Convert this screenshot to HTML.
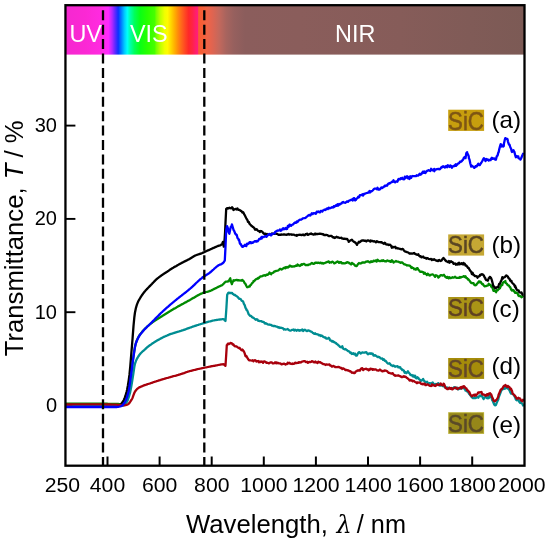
<!DOCTYPE html>
<html lang="en">
<head>
<meta charset="utf-8">
<title>Transmittance spectra of SiC samples</title>
<style>
html,body{margin:0;padding:0;background:#fff;}
body{width:550px;height:542px;overflow:hidden;font-family:"Liberation Sans",Arial,sans-serif;}
svg text{white-space:pre;}
</style>
</head>
<body>
<svg width="550" height="542" viewBox="0 0 550 542" style="display:block">
<defs>
<linearGradient id="spec" gradientUnits="userSpaceOnUse" x1="65" y1="0" x2="525" y2="0">
<stop offset="0.0000" stop-color="#f528d0"/>
<stop offset="0.0435" stop-color="#fb28d4"/>
<stop offset="0.0761" stop-color="#ff2ae0"/>
<stop offset="0.0870" stop-color="#ff2cf0"/>
<stop offset="0.0943" stop-color="#ff28ff"/>
<stop offset="0.1022" stop-color="#b428ff"/>
<stop offset="0.1085" stop-color="#6428ff"/>
<stop offset="0.1157" stop-color="#0a32ff"/>
<stop offset="0.1228" stop-color="#0082ff"/>
<stop offset="0.1291" stop-color="#00c8ff"/>
<stop offset="0.1354" stop-color="#00fffa"/>
<stop offset="0.1417" stop-color="#00ffaa"/>
<stop offset="0.1511" stop-color="#00ff5a"/>
<stop offset="0.1639" stop-color="#0aff14"/>
<stop offset="0.1789" stop-color="#28ff00"/>
<stop offset="0.1946" stop-color="#46ff00"/>
<stop offset="0.1987" stop-color="#78ff00"/>
<stop offset="0.2074" stop-color="#beff00"/>
<stop offset="0.2167" stop-color="#f0ff00"/>
<stop offset="0.2230" stop-color="#fffa00"/>
<stop offset="0.2293" stop-color="#ffdc00"/>
<stop offset="0.2374" stop-color="#ffb400"/>
<stop offset="0.2452" stop-color="#ff8c0a"/>
<stop offset="0.2515" stop-color="#ff6e19"/>
<stop offset="0.2611" stop-color="#ff4623"/>
<stop offset="0.2689" stop-color="#ff2828"/>
<stop offset="0.2770" stop-color="#ff2346"/>
<stop offset="0.2848" stop-color="#ff1e6e"/>
<stop offset="0.2893" stop-color="#ff1e7d"/>
<stop offset="0.2904" stop-color="#fa5a32"/>
<stop offset="0.2989" stop-color="#f55f37"/>
<stop offset="0.3085" stop-color="#f06446"/>
<stop offset="0.3196" stop-color="#e16450"/>
<stop offset="0.3348" stop-color="#c4685c"/>
<stop offset="0.3500" stop-color="#a8645e"/>
<stop offset="0.3674" stop-color="#96605e"/>
<stop offset="0.3913" stop-color="#8b5d5c"/>
<stop offset="0.5109" stop-color="#8a5d5b"/>
<stop offset="0.7283" stop-color="#865c59"/>
<stop offset="0.8804" stop-color="#805b57"/>
<stop offset="1.0000" stop-color="#7c5a55"/>
</linearGradient>
<clipPath id="plotclip"><rect x="65" y="5" width="460" height="461"/></clipPath>
</defs>
<rect x="0" y="0" width="550" height="542" fill="#ffffff"/>
<rect x="65" y="5" width="459.5" height="49.6" fill="url(#spec)"/>
<line x1="107.5" y1="456.5" x2="107.5" y2="465" stroke="#000" stroke-width="2"/>
<line x1="159.6" y1="456.5" x2="159.6" y2="465" stroke="#000" stroke-width="2"/>
<line x1="211.7" y1="456.5" x2="211.7" y2="465" stroke="#000" stroke-width="2"/>
<line x1="263.8" y1="456.5" x2="263.8" y2="465" stroke="#000" stroke-width="2"/>
<line x1="315.9" y1="456.5" x2="315.9" y2="465" stroke="#000" stroke-width="2"/>
<line x1="368.0" y1="456.5" x2="368.0" y2="465" stroke="#000" stroke-width="2"/>
<line x1="420.1" y1="456.5" x2="420.1" y2="465" stroke="#000" stroke-width="2"/>
<line x1="472.2" y1="456.5" x2="472.2" y2="465" stroke="#000" stroke-width="2"/>
<line x1="65.5" y1="405.5" x2="75.4" y2="405.5" stroke="#000" stroke-width="1.9"/>
<line x1="65.5" y1="312.2" x2="75.4" y2="312.2" stroke="#000" stroke-width="1.9"/>
<line x1="65.5" y1="218.9" x2="75.4" y2="218.9" stroke="#000" stroke-width="1.9"/>
<line x1="65.5" y1="125.6" x2="75.4" y2="125.6" stroke="#000" stroke-width="1.9"/>
<g clip-path="url(#plotclip)">
<path d="M65.5 403.7 L66.3 403.7 L67.1 403.7 L67.9 403.7 L68.7 403.7 L69.5 403.7 L70.3 403.7 L71.1 403.7 L71.9 403.7 L72.7 403.7 L73.5 403.7 L74.3 403.7 L75.1 403.7 L75.9 403.7 L76.7 403.7 L77.5 403.7 L78.3 403.7 L79.1 403.7 L79.9 403.7 L80.7 403.7 L81.5 403.7 L82.3 403.7 L83.1 403.7 L83.9 403.7 L84.7 403.7 L85.5 403.7 L86.3 403.7 L87.1 403.7 L87.9 403.7 L88.7 403.7 L89.5 403.7 L90.3 403.7 L91.1 403.7 L91.9 403.7 L92.7 403.7 L93.5 403.7 L94.3 403.7 L95.1 403.7 L95.9 403.7 L96.7 403.7 L97.5 403.7 L98.3 403.7 L99.1 403.7 L99.9 403.7 L100.0 403.7 L100.7 403.7 L101.5 403.7 L102.3 403.7 L103.1 403.7 L103.9 403.7 L104.7 403.7 L105.5 403.7 L106.3 403.7 L107.1 403.7 L107.9 403.8 L108.7 403.8 L109.5 403.8 L110.3 403.8 L111.1 403.8 L111.9 403.8 L112.7 403.8 L113.5 403.8 L114.3 403.9 L115.1 403.9 L115.9 403.9 L116.0 403.9 L116.7 403.9 L117.5 404.0 L118.3 404.0 L119.1 404.1 L119.9 404.2 L120.7 404.2 L121.0 404.2 L121.5 404.1 L122.3 403.8 L123.1 403.2 L123.9 402.5 L124.7 401.6 L125.2 401.0 L125.5 400.6 L126.3 398.9 L127.1 396.7 L127.9 393.9 L128.5 391.5 L128.7 390.6 L129.5 385.9 L130.3 380.1 L131.0 375.0 L131.1 374.3 L131.9 368.2 L132.7 362.0 L133.2 358.4 L133.5 356.4 L134.3 350.9 L135.1 346.2 L135.5 344.5 L135.9 343.1 L136.7 340.8 L137.5 338.9 L138.2 337.5 L138.3 337.3 L139.1 335.9 L139.9 334.7 L140.7 333.6 L141.5 332.6 L142.3 331.6 L143.1 330.7 L143.2 330.6 L143.9 329.8 L144.7 329.0 L145.5 328.2 L146.3 327.5 L147.1 326.7 L147.9 326.0 L148.7 325.3 L149.5 324.7 L150.3 324.0 L151.1 323.4 L151.5 323.1 L151.9 322.8 L152.7 322.2 L153.5 321.6 L154.3 321.0 L155.1 320.5 L155.9 320.0 L156.7 319.4 L157.5 318.9 L158.3 318.4 L159.1 317.9 L159.9 317.4 L160.7 316.9 L161.5 316.4 L162.3 315.9 L162.6 315.7 L163.1 315.4 L163.9 314.9 L164.7 314.4 L165.5 313.9 L166.3 313.4 L167.1 312.9 L167.9 312.4 L168.7 311.9 L169.5 311.4 L170.3 311.0 L171.1 310.5 L171.9 310.0 L172.7 309.6 L173.5 309.1 L174.3 308.6 L175.1 308.2 L175.9 307.7 L176.4 307.4 L176.7 307.2 L177.5 306.8 L178.3 306.3 L179.1 305.9 L179.9 305.4 L180.7 305.0 L181.5 304.5 L182.3 304.1 L183.1 303.7 L183.9 303.2 L184.7 302.8 L185.5 302.4 L186.3 301.9 L187.1 301.5 L187.9 301.0 L188.7 300.6 L189.5 300.2 L190.0 299.9 L190.3 299.7 L191.1 299.3 L191.9 298.8 L192.7 298.3 L193.5 297.9 L194.3 297.4 L195.1 296.9 L195.9 296.4 L196.7 296.0 L197.5 295.5 L198.3 295.1 L199.1 294.7 L199.9 294.3 L200.7 293.9 L201.5 293.5 L202.1 293.3 L202.3 293.2 L203.1 292.9 L203.9 292.7 L204.7 292.5 L205.5 292.2 L206.3 292.0 L207.1 291.8 L207.9 291.6 L208.7 291.3 L209.5 291.1 L210.0 290.9 L210.3 290.8 L211.1 290.5 L211.9 290.1 L212.7 289.7 L213.5 289.3 L214.3 288.9 L215.1 288.5 L215.9 288.1 L216.7 287.7 L217.4 287.3 L217.5 287.3 L218.3 286.9 L219.1 286.5 L219.9 286.2 L220.7 285.8 L221.5 285.4 L222.3 284.9 L222.9 284.5 L223.1 284.3 L223.9 283.5 L224.7 282.5 L225.5 281.8 L225.7 281.7 L226.3 281.6 L227.1 281.7 L227.9 281.3 L228.5 281.4 L228.7 280.7 L229.5 279.6 L230.3 278.2 L230.3 278.9 L231.1 282.1 L231.8 283.8 L231.9 284.2 L232.7 281.7 L233.1 281.7 L233.5 280.3 L234.3 280.6 L235.1 280.2 L235.9 280.1 L236.7 279.8 L237.5 280.3 L237.7 280.3 L238.3 280.2 L239.1 280.5 L239.9 280.3 L240.7 280.5 L241.5 280.6 L242.3 279.9 L242.3 279.9 L243.1 280.7 L243.9 281.6 L244.7 283.4 L245.1 283.3 L245.5 284.0 L246.3 285.8 L247.1 287.2 L247.8 287.1 L247.9 287.2 L248.7 286.6 L249.5 286.2 L249.7 286.6 L250.3 285.2 L251.1 284.7 L251.9 283.3 L252.7 282.6 L253.4 282.0 L253.5 281.2 L254.3 280.9 L255.1 280.1 L255.9 279.1 L256.7 279.1 L257.5 278.5 L258.0 277.9 L258.3 278.5 L259.1 277.8 L259.9 276.8 L260.7 276.4 L261.5 276.3 L262.3 276.2 L263.1 275.5 L263.5 275.5 L263.9 275.7 L264.7 275.1 L265.5 275.7 L266.3 274.9 L267.1 274.5 L267.9 274.8 L268.7 274.0 L269.5 272.5 L270.0 273.1 L270.3 273.8 L271.1 274.2 L271.9 273.1 L272.7 272.9 L273.5 272.5 L274.3 271.5 L275.1 271.4 L275.9 270.9 L276.7 270.8 L277.5 270.7 L278.3 270.5 L279.1 269.7 L279.9 268.9 L280.7 269.0 L281.5 269.5 L282.3 269.1 L283.1 268.6 L283.9 268.1 L284.7 267.6 L285.5 268.3 L285.8 267.3 L286.3 267.7 L287.1 266.9 L287.9 267.6 L288.7 267.1 L289.5 265.7 L290.3 265.6 L291.1 266.6 L291.9 266.4 L292.7 266.6 L293.5 266.3 L294.3 266.5 L295.1 266.2 L295.9 265.5 L296.7 265.8 L297.5 264.5 L298.3 265.5 L299.1 265.3 L299.9 266.0 L300.7 265.3 L301.5 264.3 L302.3 264.8 L303.1 264.0 L303.9 263.8 L304.3 263.8 L304.7 264.4 L305.5 265.0 L306.3 265.1 L307.1 264.9 L307.9 265.1 L308.7 264.7 L309.5 264.4 L310.3 264.3 L311.1 263.5 L311.9 263.0 L312.7 263.4 L313.5 263.9 L314.3 263.7 L315.1 262.7 L315.9 262.9 L316.7 262.6 L317.5 263.0 L318.3 262.7 L319.1 263.0 L319.9 263.0 L320.7 262.6 L321.5 263.4 L322.3 262.9 L322.7 263.5 L323.1 263.6 L323.9 263.2 L324.7 263.2 L325.5 262.6 L326.3 262.4 L327.1 261.9 L327.9 261.8 L328.7 261.4 L329.5 262.7 L330.3 262.3 L331.1 262.5 L331.9 261.9 L332.7 261.7 L333.5 262.5 L334.3 263.4 L335.1 263.0 L335.9 262.5 L336.7 261.9 L337.5 261.4 L338.3 262.0 L339.1 262.9 L339.9 262.0 L340.7 262.4 L341.2 262.2 L341.5 263.1 L342.3 263.4 L343.1 263.1 L343.9 263.3 L344.7 263.4 L345.5 262.9 L346.3 262.8 L347.1 262.1 L347.9 262.5 L348.7 262.6 L349.5 263.4 L350.3 263.7 L351.1 264.5 L351.9 262.9 L352.7 263.4 L353.0 263.7 L353.5 264.0 L354.3 264.6 L355.1 265.7 L355.9 265.6 L356.0 266.0 L356.7 266.0 L357.5 264.9 L358.3 263.7 L359.0 263.0 L359.1 263.3 L359.9 263.5 L360.7 263.4 L361.5 262.9 L361.5 263.2 L362.3 262.4 L363.1 262.6 L363.9 262.3 L364.7 262.7 L365.5 262.1 L366.3 261.5 L367.1 261.7 L367.9 261.2 L368.7 261.7 L369.5 262.3 L370.3 262.4 L371.1 261.3 L371.9 262.0 L372.7 261.7 L373.5 260.7 L374.3 260.8 L375.1 261.1 L375.9 260.4 L376.7 261.5 L377.5 259.8 L378.1 260.2 L378.3 260.5 L379.1 261.0 L379.9 261.1 L380.7 261.1 L381.5 260.5 L382.3 261.1 L383.1 260.1 L383.9 260.9 L384.7 261.3 L385.5 261.2 L386.3 261.4 L387.1 260.5 L387.9 260.6 L388.7 261.2 L389.5 261.1 L390.0 261.0 L390.3 261.9 L391.1 261.8 L391.9 260.2 L392.7 261.0 L393.5 262.6 L394.3 261.8 L395.1 261.7 L395.9 261.0 L396.7 261.5 L397.5 261.6 L398.3 261.6 L399.1 262.2 L399.9 262.5 L400.7 262.8 L401.0 262.3 L401.5 262.4 L402.3 262.4 L403.1 263.3 L403.9 264.1 L404.7 264.3 L405.5 264.7 L406.3 265.0 L407.1 265.5 L407.9 265.3 L408.7 265.5 L409.5 265.6 L410.3 266.0 L411.1 267.6 L411.9 268.0 L412.1 267.3 L412.7 267.8 L413.5 268.0 L414.3 269.3 L415.1 268.9 L415.9 269.7 L416.7 268.4 L417.5 268.1 L418.3 269.8 L419.1 270.2 L419.9 271.6 L420.7 271.8 L421.5 271.7 L422.3 271.9 L423.1 272.1 L423.9 273.7 L424.7 272.7 L425.5 273.9 L426.3 274.2 L426.9 275.1 L427.1 274.0 L427.9 273.7 L428.7 274.5 L429.5 275.5 L430.3 275.3 L431.1 274.7 L431.9 274.5 L432.7 274.3 L433.5 275.0 L434.3 275.8 L435.1 276.9 L435.9 275.3 L436.7 275.7 L437.5 275.8 L438.0 276.7 L438.3 277.6 L439.1 276.9 L439.9 276.0 L440.7 275.1 L441.5 275.1 L442.3 275.7 L443.1 275.4 L443.9 274.8 L444.3 275.5 L444.7 275.8 L445.5 277.1 L446.3 277.4 L447.1 277.9 L447.2 276.9 L447.9 277.1 L448.7 278.4 L449.5 277.2 L450.3 278.0 L451.1 278.0 L451.9 277.7 L452.7 277.1 L453.0 277.7 L453.5 277.6 L454.3 277.3 L455.1 276.7 L455.9 277.6 L456.7 277.8 L457.5 277.8 L458.3 277.9 L459.0 277.7 L459.1 277.9 L459.9 277.0 L460.7 277.6 L461.5 277.0 L462.3 276.8 L463.1 276.7 L463.5 276.3 L463.9 276.1 L464.7 277.0 L465.5 276.2 L466.3 277.9 L467.1 278.2 L467.9 279.5 L467.9 278.9 L468.7 279.6 L469.5 280.6 L470.3 281.8 L471.1 282.9 L471.9 283.2 L472.7 283.0 L473.5 283.2 L473.8 284.1 L474.3 284.8 L475.1 285.3 L475.9 285.2 L476.7 284.5 L476.8 283.7 L477.5 283.4 L478.3 282.3 L479.1 281.3 L479.9 282.4 L480.0 281.6 L480.7 281.8 L481.5 283.3 L482.3 284.2 L482.8 283.9 L483.1 284.5 L483.9 285.6 L484.7 286.3 L485.5 286.1 L485.5 286.1 L486.3 286.0 L487.1 285.7 L487.9 285.4 L488.3 285.2 L488.7 283.8 L489.5 284.6 L490.3 285.1 L491.1 285.6 L491.1 286.6 L491.9 287.0 L492.7 288.3 L493.5 290.8 L493.8 290.4 L494.3 290.2 L495.1 291.2 L495.9 291.9 L496.1 292.2 L496.7 290.1 L497.5 290.4 L498.3 289.5 L499.1 288.8 L499.4 288.4 L499.9 288.2 L500.7 286.3 L501.5 285.0 L502.3 285.0 L502.6 283.2 L503.1 282.6 L503.9 282.0 L504.7 281.7 L505.4 281.0 L505.5 282.8 L506.3 283.3 L507.1 284.1 L507.7 285.1 L507.9 285.1 L508.7 285.3 L509.5 286.6 L510.3 287.4 L511.1 289.7 L511.4 289.2 L511.9 290.6 L512.7 290.2 L513.5 290.1 L514.3 291.6 L515.1 292.3 L515.1 292.9 L515.9 292.5 L516.7 292.9 L517.5 293.3 L518.3 295.2 L518.7 295.9 L519.1 296.2 L519.9 295.7 L520.7 296.2 L521.5 297.2 L522.3 296.7 L523.1 296.4 L523.4 297.0" fill="none" stroke="#008a00" stroke-width="2.3" stroke-linejoin="round" stroke-linecap="butt"/>
<path d="M65.5 405.5 L66.3 405.5 L67.1 405.5 L67.9 405.5 L68.7 405.5 L69.5 405.5 L70.3 405.5 L71.1 405.5 L71.9 405.5 L72.7 405.5 L73.5 405.5 L74.3 405.5 L75.1 405.5 L75.9 405.5 L76.7 405.5 L77.5 405.5 L78.3 405.5 L79.1 405.5 L79.9 405.5 L80.7 405.5 L81.5 405.5 L82.3 405.5 L83.1 405.5 L83.9 405.5 L84.7 405.5 L85.5 405.5 L86.3 405.5 L87.1 405.5 L87.9 405.5 L88.7 405.5 L89.5 405.5 L90.3 405.5 L91.1 405.5 L91.9 405.5 L92.7 405.5 L93.5 405.5 L94.3 405.5 L95.1 405.5 L95.9 405.5 L96.7 405.5 L97.5 405.5 L98.3 405.5 L99.1 405.5 L99.9 405.5 L100.0 405.5 L100.7 405.5 L101.5 405.5 L102.3 405.5 L103.1 405.5 L103.9 405.5 L104.7 405.5 L105.5 405.5 L106.3 405.5 L107.1 405.5 L107.9 405.5 L108.7 405.5 L109.5 405.5 L110.3 405.5 L111.1 405.5 L111.9 405.5 L112.7 405.5 L113.5 405.5 L114.3 405.5 L115.0 405.5 L115.1 405.5 L115.9 405.5 L116.7 405.4 L117.5 405.4 L118.3 405.2 L119.1 405.1 L119.7 405.0 L119.9 404.9 L120.7 404.5 L121.5 403.6 L122.3 402.5 L123.1 401.2 L123.8 400.0 L123.9 399.8 L124.7 398.0 L125.5 395.7 L126.3 392.9 L126.6 391.8 L127.1 389.7 L127.9 385.5 L128.7 380.4 L129.4 375.2 L129.5 374.4 L130.3 366.1 L131.1 356.1 L131.6 350.0 L131.9 346.5 L132.6 338.0 L132.7 336.7 L133.5 326.1 L133.6 325.0 L134.3 317.7 L134.9 313.0 L135.1 311.9 L135.9 308.1 L136.7 305.3 L137.0 304.4 L137.5 303.1 L138.3 301.3 L139.1 299.8 L139.9 298.5 L140.7 297.2 L140.8 297.0 L141.5 295.9 L142.3 294.7 L143.1 293.6 L143.9 292.5 L144.5 291.8 L144.7 291.6 L145.5 290.6 L146.3 289.7 L147.1 288.9 L147.9 288.0 L148.7 287.2 L149.5 286.4 L150.3 285.6 L151.1 284.8 L151.5 284.4 L151.9 284.0 L152.7 283.1 L153.5 282.3 L154.3 281.4 L155.1 280.6 L155.9 279.8 L156.6 279.2 L156.7 279.1 L157.5 278.4 L158.3 277.8 L159.1 277.2 L159.9 276.6 L160.7 276.0 L161.5 275.4 L162.1 275.0 L162.3 274.9 L163.1 274.3 L163.9 273.8 L164.7 273.2 L165.5 272.7 L166.3 272.2 L167.1 271.7 L167.7 271.3 L167.9 271.2 L168.7 270.7 L169.5 270.1 L170.3 269.6 L171.1 269.1 L171.9 268.6 L172.7 268.1 L173.2 267.8 L173.5 267.6 L174.3 267.1 L175.1 266.6 L175.9 266.2 L176.7 265.7 L177.5 265.2 L178.3 264.8 L178.8 264.5 L179.1 264.3 L179.9 263.9 L180.7 263.5 L181.5 263.0 L182.3 262.6 L183.1 262.2 L183.9 261.8 L184.3 261.6 L184.7 261.4 L185.5 261.0 L186.3 260.6 L187.1 260.2 L187.9 259.8 L188.7 259.4 L189.5 259.0 L189.8 258.8 L190.3 258.5 L191.1 258.0 L191.9 257.5 L192.7 257.0 L193.5 256.5 L194.3 256.0 L195.1 255.6 L195.4 255.5 L195.9 255.3 L196.7 255.0 L197.5 254.7 L198.3 254.5 L199.1 254.2 L199.9 253.9 L200.0 253.9 L200.7 253.6 L201.5 253.3 L202.3 253.0 L203.1 252.6 L203.9 252.3 L204.7 251.9 L205.5 251.5 L206.3 251.2 L207.1 250.8 L207.9 250.4 L208.7 250.1 L209.5 249.7 L210.0 249.5 L210.3 249.4 L211.1 249.0 L211.9 248.7 L212.7 248.3 L213.5 247.9 L214.3 247.6 L215.1 247.2 L215.9 246.9 L216.7 246.5 L217.4 246.2 L217.5 246.2 L218.3 245.9 L219.1 245.6 L219.9 245.4 L220.7 245.1 L221.5 244.6 L222.0 244.2 L222.3 243.5 L222.9 242.0 L223.1 242.6 L223.8 246.7 L223.9 246.6 L224.7 238.1 L225.1 231.9 L225.5 222.6 L226.2 208.8 L226.3 208.8 L227.1 208.1 L227.9 208.6 L228.5 208.2 L228.7 208.1 L229.5 207.7 L230.3 208.2 L231.1 208.4 L231.9 207.7 L232.1 207.3 L232.7 208.0 L233.5 210.0 L234.0 209.5 L234.3 209.5 L235.1 209.1 L235.9 208.9 L236.7 209.1 L236.8 209.5 L237.5 208.5 L238.3 209.8 L239.1 209.9 L239.9 210.3 L240.4 210.4 L240.7 210.9 L241.5 211.2 L242.3 212.5 L243.1 212.1 L243.9 213.5 L244.1 214.2 L244.7 215.1 L245.5 216.7 L246.3 218.3 L247.1 219.6 L247.8 221.0 L247.9 221.8 L248.7 221.8 L249.5 223.7 L250.3 224.6 L251.1 225.3 L251.5 226.1 L251.9 225.9 L252.7 226.9 L253.5 227.3 L254.3 228.1 L255.1 229.6 L255.2 229.1 L255.9 229.7 L256.7 229.1 L257.5 230.2 L258.3 231.1 L259.1 231.2 L259.8 231.2 L259.9 232.0 L260.7 231.0 L261.5 231.2 L262.3 231.8 L263.1 232.9 L263.9 233.8 L264.7 233.6 L265.4 233.6 L265.5 233.7 L266.3 234.5 L267.1 234.0 L267.9 234.8 L268.7 234.6 L269.5 234.2 L270.0 234.4 L270.3 234.3 L271.1 234.5 L271.9 233.4 L272.7 234.1 L273.5 233.6 L274.3 233.8 L274.8 233.8 L275.1 233.7 L275.9 233.6 L276.7 233.8 L277.5 233.9 L278.3 234.8 L279.1 234.8 L279.9 234.6 L280.7 234.9 L281.5 234.5 L282.3 234.6 L283.1 234.7 L283.9 234.4 L284.7 234.5 L285.5 234.7 L286.3 234.9 L287.1 234.3 L287.9 234.6 L288.7 234.0 L289.5 234.7 L290.3 234.3 L291.1 234.3 L291.9 234.8 L292.7 234.7 L293.5 234.7 L294.3 234.9 L295.1 235.3 L295.9 235.3 L296.7 235.8 L296.9 235.0 L297.5 235.3 L298.3 234.9 L299.1 234.8 L299.9 234.7 L300.7 234.8 L301.5 235.2 L302.3 234.9 L303.1 234.4 L303.9 235.3 L304.7 235.2 L305.5 234.1 L306.3 234.4 L307.1 233.6 L307.9 234.9 L308.7 234.5 L309.5 234.2 L310.3 233.7 L311.1 233.5 L311.9 234.1 L312.7 234.2 L313.5 234.6 L314.3 234.3 L315.1 233.5 L315.4 234.4 L315.9 233.8 L316.7 233.9 L317.5 234.1 L318.3 233.8 L319.1 233.9 L319.9 233.6 L320.7 233.9 L321.5 233.8 L322.3 234.3 L323.1 234.1 L323.9 235.0 L324.7 234.9 L325.5 235.2 L326.3 234.8 L327.1 235.0 L327.9 235.5 L328.7 236.0 L329.5 236.1 L330.3 235.8 L331.1 235.8 L331.9 236.3 L332.7 237.3 L333.5 237.1 L333.8 237.1 L334.3 238.0 L335.1 237.8 L335.9 237.3 L336.7 236.8 L337.5 237.5 L338.3 237.3 L339.1 237.8 L339.9 238.0 L340.7 237.8 L341.5 237.7 L342.3 238.7 L343.1 238.6 L343.9 238.9 L344.7 238.6 L345.5 238.8 L346.3 239.2 L347.1 238.9 L347.9 240.2 L348.6 240.9 L348.7 241.9 L349.5 241.2 L350.3 240.5 L351.1 240.2 L351.9 239.7 L352.7 240.7 L353.5 241.5 L354.3 242.0 L355.0 242.4 L355.1 242.2 L355.9 243.2 L356.7 244.4 L357.0 244.9 L357.5 243.5 L358.3 242.7 L359.0 241.6 L359.1 242.6 L359.9 242.1 L360.7 241.4 L361.5 240.6 L361.5 240.5 L362.3 240.3 L363.1 240.6 L363.9 240.4 L364.7 240.9 L365.5 240.6 L366.3 241.5 L367.1 240.6 L367.9 240.4 L368.7 240.7 L369.5 241.0 L370.3 241.6 L370.7 240.5 L371.1 241.1 L371.9 240.7 L372.7 241.2 L373.5 241.5 L374.3 241.2 L375.1 241.7 L375.9 242.3 L376.7 241.2 L377.5 241.5 L378.3 242.1 L379.1 242.2 L379.9 242.1 L380.7 242.4 L381.5 242.1 L382.3 242.9 L383.1 243.3 L383.9 243.8 L384.7 242.8 L385.5 243.2 L385.5 243.9 L386.3 244.5 L387.1 244.7 L387.9 244.4 L388.7 245.0 L389.5 244.8 L390.0 244.7 L390.3 244.9 L391.1 245.8 L391.9 247.8 L392.7 246.8 L393.5 247.3 L394.3 247.2 L395.1 246.8 L395.9 248.3 L396.7 247.8 L397.5 248.5 L398.3 248.3 L399.1 248.6 L399.9 248.8 L400.7 249.1 L401.0 249.1 L401.5 249.4 L402.3 248.8 L403.1 249.3 L403.9 250.4 L404.7 251.3 L405.5 251.7 L406.3 251.9 L407.1 252.2 L407.9 252.3 L408.7 252.9 L409.5 253.5 L410.3 253.5 L411.1 253.6 L411.9 253.5 L412.1 253.6 L412.7 253.6 L413.5 253.2 L414.3 253.0 L415.1 253.9 L415.9 254.2 L416.7 254.7 L417.5 254.8 L418.3 254.2 L419.1 255.7 L419.9 256.5 L420.7 256.1 L421.5 257.3 L422.3 257.2 L423.1 256.5 L423.9 257.7 L424.7 257.9 L425.5 258.0 L426.3 258.7 L426.9 258.0 L427.1 258.5 L427.9 258.2 L428.7 259.0 L429.5 259.2 L430.3 259.0 L431.1 258.8 L431.9 260.0 L432.7 259.4 L433.5 259.8 L434.3 259.2 L435.1 260.0 L435.9 260.4 L436.7 260.8 L437.5 260.6 L438.0 261.1 L438.3 260.3 L439.1 260.0 L439.9 260.6 L440.7 261.0 L441.0 260.7 L441.5 260.6 L442.3 259.2 L443.1 258.3 L443.5 258.0 L443.9 258.5 L444.7 259.5 L445.5 260.7 L445.5 260.2 L446.3 261.3 L447.1 261.5 L447.9 262.0 L448.7 261.9 L449.0 261.0 L449.5 262.7 L450.3 261.9 L451.1 261.2 L451.9 262.1 L452.7 262.1 L453.5 263.9 L454.3 263.5 L455.1 263.3 L455.9 264.7 L456.7 264.0 L457.5 264.5 L458.3 263.1 L459.0 262.8 L459.1 264.4 L459.9 263.9 L460.7 264.0 L461.5 263.1 L462.3 264.2 L463.1 264.5 L463.5 262.8 L463.9 264.1 L464.7 263.6 L465.5 265.7 L466.3 265.5 L467.1 266.5 L467.9 267.7 L467.9 267.9 L468.7 267.9 L469.5 269.7 L470.3 270.9 L471.1 271.6 L471.9 274.1 L472.3 272.7 L472.7 273.0 L473.5 275.1 L474.3 275.2 L475.1 276.2 L475.9 276.1 L476.7 276.4 L476.8 276.5 L477.5 277.7 L478.3 276.4 L479.1 276.4 L479.9 275.8 L480.0 274.9 L480.7 275.1 L481.5 274.2 L482.3 274.6 L482.8 274.4 L483.1 274.6 L483.9 275.7 L484.7 277.5 L485.5 278.5 L485.5 279.3 L486.3 280.1 L487.1 280.1 L487.8 280.8 L487.9 280.6 L488.7 278.3 L489.5 277.8 L489.7 276.9 L490.3 277.1 L491.1 278.4 L491.1 278.0 L491.9 280.4 L492.7 283.5 L493.4 286.5 L493.5 286.4 L494.3 286.7 L495.1 288.2 L495.7 287.8 L495.9 288.0 L496.7 287.5 L497.5 286.9 L498.3 287.1 L498.5 286.1 L499.1 284.0 L499.9 283.9 L500.7 281.6 L501.5 280.2 L502.3 277.2 L502.6 278.6 L503.1 278.4 L503.9 277.3 L504.7 277.2 L505.5 276.4 L505.8 275.7 L506.3 275.4 L507.1 276.0 L507.9 276.7 L508.6 278.4 L508.7 278.0 L509.5 278.8 L510.3 280.7 L511.1 281.5 L511.4 280.9 L511.9 282.5 L512.7 283.3 L513.5 284.0 L514.3 285.0 L515.1 287.2 L515.1 285.6 L515.9 287.8 L516.7 289.7 L517.5 290.4 L518.3 290.3 L518.7 290.5 L519.1 291.8 L519.9 292.5 L520.7 292.6 L521.5 292.5 L522.3 294.4 L523.1 294.9 L523.4 295.0" fill="none" stroke="#000000" stroke-width="2.3" stroke-linejoin="round" stroke-linecap="butt"/>
<path d="M65.5 405.2 L66.3 405.2 L67.1 405.2 L67.9 405.2 L68.7 405.2 L69.5 405.2 L70.3 405.2 L71.1 405.2 L71.9 405.2 L72.7 405.2 L73.5 405.2 L74.3 405.2 L75.1 405.2 L75.9 405.2 L76.7 405.2 L77.5 405.2 L78.3 405.2 L79.1 405.2 L79.9 405.2 L80.7 405.2 L81.5 405.2 L82.3 405.2 L83.1 405.2 L83.9 405.2 L84.7 405.2 L85.5 405.2 L86.3 405.2 L87.1 405.2 L87.9 405.2 L88.7 405.2 L89.5 405.2 L90.3 405.2 L91.1 405.2 L91.9 405.2 L92.7 405.2 L93.5 405.2 L94.3 405.2 L95.1 405.2 L95.9 405.2 L96.7 405.2 L97.5 405.2 L98.3 405.2 L99.1 405.2 L99.9 405.2 L100.0 405.2 L100.7 405.2 L101.5 405.2 L102.3 405.2 L103.1 405.2 L103.9 405.2 L104.7 405.2 L105.5 405.2 L106.3 405.2 L107.1 405.2 L107.9 405.2 L108.7 405.3 L109.5 405.3 L110.3 405.3 L111.1 405.3 L111.9 405.3 L112.7 405.3 L113.5 405.3 L114.3 405.3 L115.1 405.3 L115.9 405.4 L116.7 405.4 L117.5 405.4 L118.0 405.4 L118.3 405.4 L119.1 405.4 L119.9 405.5 L120.7 405.5 L121.5 405.6 L122.3 405.6 L122.5 405.6 L123.1 405.5 L123.9 405.1 L124.7 404.5 L125.5 403.6 L126.3 402.7 L126.6 402.3 L127.1 401.5 L127.9 399.7 L128.7 397.4 L129.5 394.7 L129.9 393.2 L130.3 391.6 L131.1 387.5 L131.9 382.7 L132.7 377.9 L132.7 377.9 L133.5 372.5 L134.3 367.0 L134.9 364.1 L135.1 363.4 L135.9 361.1 L136.7 359.3 L137.5 357.9 L137.7 357.5 L138.3 356.5 L139.1 355.3 L139.9 354.3 L140.7 353.3 L141.0 353.0 L141.5 352.5 L142.3 351.7 L143.1 351.0 L143.9 350.4 L144.3 350.0 L144.7 349.6 L145.5 348.9 L146.3 348.1 L147.1 347.4 L147.9 346.7 L148.2 346.5 L148.7 346.1 L149.5 345.5 L150.3 344.9 L151.1 344.4 L151.9 343.8 L152.7 343.3 L153.5 342.8 L153.8 342.6 L154.3 342.3 L155.1 341.8 L155.9 341.3 L156.7 340.8 L157.5 340.3 L158.3 339.9 L159.1 339.4 L159.3 339.3 L159.9 339.0 L160.7 338.5 L161.5 338.1 L162.3 337.7 L163.1 337.3 L163.9 336.9 L164.7 336.5 L164.8 336.5 L165.5 336.2 L166.3 335.8 L167.1 335.5 L167.9 335.1 L168.7 334.8 L169.5 334.4 L170.3 334.1 L170.4 334.1 L171.1 333.8 L171.9 333.6 L172.7 333.3 L173.5 333.1 L174.3 332.8 L175.0 332.6 L175.1 332.6 L175.9 332.3 L176.7 332.1 L177.5 331.9 L178.3 331.7 L179.1 331.5 L179.9 331.2 L180.0 331.2 L180.7 331.0 L181.5 330.7 L182.3 330.4 L183.1 330.2 L183.9 329.9 L184.7 329.6 L185.5 329.3 L186.3 329.0 L187.1 328.7 L187.9 328.4 L188.7 328.1 L189.5 327.8 L190.3 327.5 L191.0 327.3 L191.1 327.3 L191.9 327.0 L192.7 326.7 L193.5 326.4 L194.3 326.2 L195.1 325.9 L195.9 325.6 L196.7 325.3 L197.5 325.0 L198.3 324.8 L199.1 324.5 L199.9 324.3 L200.7 324.0 L201.5 323.8 L202.1 323.6 L202.3 323.5 L203.1 323.3 L203.9 323.1 L204.7 322.8 L205.5 322.6 L206.3 322.4 L207.1 322.1 L207.9 321.9 L208.7 321.7 L209.5 321.5 L210.3 321.3 L211.1 321.1 L211.9 320.9 L212.7 320.7 L213.5 320.5 L214.3 320.3 L215.1 320.2 L215.9 320.1 L216.7 319.9 L216.9 319.9 L217.5 319.8 L218.3 319.7 L219.1 319.6 L219.9 319.5 L220.7 319.4 L221.5 319.3 L222.3 319.2 L223.1 319.2 L223.5 319.2 L223.9 319.4 L224.7 320.4 L225.4 321.0 L225.5 320.8 L226.3 309.5 L226.4 308.0 L227.1 296.1 L227.2 294.8 L227.9 293.4 L228.7 292.6 L229.5 293.1 L229.6 293.0 L230.3 293.0 L231.1 293.0 L231.9 292.8 L232.7 293.9 L233.5 294.3 L234.2 295.1 L234.3 294.8 L235.1 294.9 L235.9 295.8 L236.7 296.2 L237.5 296.8 L238.3 297.8 L239.1 298.8 L239.7 298.6 L239.9 299.0 L240.7 299.2 L241.5 300.5 L242.3 301.1 L243.1 301.6 L243.4 302.3 L243.9 303.8 L244.7 305.1 L245.5 307.9 L246.2 308.8 L246.3 309.7 L247.1 310.2 L247.9 312.1 L248.7 314.3 L249.5 315.1 L249.9 315.7 L250.3 315.9 L251.1 315.9 L251.9 317.0 L252.7 317.6 L253.5 317.7 L254.3 318.5 L255.1 319.2 L255.9 319.7 L256.3 319.2 L256.7 319.5 L257.5 319.5 L258.3 320.8 L259.1 320.8 L259.9 321.1 L260.7 321.1 L261.5 321.1 L262.3 321.8 L263.1 321.9 L263.9 322.1 L264.7 323.4 L265.5 323.1 L265.6 323.7 L266.3 323.3 L267.1 324.0 L267.9 324.5 L268.7 324.7 L269.5 324.5 L270.3 324.9 L271.1 324.8 L271.9 325.7 L272.7 325.7 L273.5 326.1 L274.3 325.9 L275.1 326.1 L275.9 326.5 L276.6 326.7 L276.7 326.6 L277.5 327.1 L278.3 327.6 L279.1 327.2 L279.9 328.0 L280.7 327.7 L281.5 327.9 L282.3 328.1 L283.1 328.4 L283.9 329.5 L284.7 329.1 L285.5 329.7 L286.3 329.5 L287.1 329.3 L287.7 328.9 L287.9 329.2 L288.7 329.8 L289.5 330.5 L290.3 330.7 L291.1 330.5 L291.9 329.8 L292.7 329.8 L293.5 329.5 L294.3 330.6 L295.1 329.7 L295.9 330.2 L296.7 330.7 L297.5 329.9 L298.3 329.9 L298.7 330.4 L299.1 330.8 L299.9 330.2 L300.7 330.5 L301.5 330.0 L302.3 329.5 L303.1 331.0 L303.9 329.8 L304.7 330.0 L305.0 329.7 L305.5 330.5 L306.3 330.7 L307.1 331.1 L307.9 330.6 L308.7 330.3 L309.5 330.9 L310.3 331.3 L311.1 331.7 L311.9 331.9 L312.7 332.9 L313.5 333.2 L314.3 333.9 L315.1 333.3 L315.4 333.7 L315.9 334.0 L316.7 334.1 L317.5 334.3 L318.3 334.6 L319.1 335.4 L319.9 335.0 L320.7 336.0 L321.5 335.5 L322.3 335.8 L323.1 336.9 L323.9 337.1 L324.7 337.7 L325.5 337.4 L326.3 338.6 L327.1 338.6 L327.9 338.5 L328.7 337.7 L329.5 338.7 L330.1 340.3 L330.3 340.2 L331.1 340.6 L331.9 341.5 L332.7 340.9 L333.5 342.0 L334.3 341.9 L335.1 342.8 L335.9 342.8 L336.7 344.0 L337.5 344.3 L338.3 345.2 L339.1 345.7 L339.9 346.7 L340.7 347.2 L341.5 347.4 L342.3 346.3 L343.1 348.5 L343.9 349.0 L344.7 349.3 L344.9 349.4 L345.5 349.0 L346.3 349.7 L347.1 350.2 L347.9 351.1 L348.7 351.2 L349.5 351.7 L350.3 353.0 L351.1 352.6 L351.9 354.0 L352.7 353.8 L353.5 353.3 L354.0 353.9 L354.3 354.3 L355.1 353.6 L355.9 355.5 L356.7 354.8 L356.7 355.6 L357.5 354.3 L358.3 352.9 L359.1 352.1 L359.6 352.3 L359.9 352.9 L360.7 353.5 L361.5 352.9 L362.3 352.3 L363.1 352.7 L363.9 352.7 L364.7 352.5 L365.5 352.4 L366.3 352.1 L367.0 353.3 L367.1 353.4 L367.9 354.4 L368.7 353.8 L369.5 353.3 L370.3 353.8 L371.1 353.3 L371.9 354.0 L372.7 353.6 L373.5 355.6 L374.3 355.6 L375.1 355.1 L375.9 355.8 L376.7 356.3 L377.5 357.0 L378.1 356.9 L378.3 356.7 L379.1 357.1 L379.9 357.6 L380.7 358.3 L381.5 358.6 L382.3 358.5 L383.1 359.9 L383.9 359.2 L384.7 360.8 L385.5 360.6 L386.3 361.7 L387.1 362.7 L387.9 363.6 L388.7 363.7 L389.2 363.4 L389.5 363.2 L390.3 364.2 L391.1 365.2 L391.9 365.5 L392.7 366.1 L393.5 365.4 L394.3 365.9 L395.1 366.8 L395.9 366.4 L396.7 366.3 L397.5 366.1 L398.3 367.4 L399.1 367.0 L399.9 367.8 L400.2 367.2 L400.7 368.7 L401.5 368.8 L402.3 370.1 L403.1 370.0 L403.9 370.7 L404.7 372.7 L405.5 372.2 L406.3 373.2 L407.1 372.6 L407.9 371.3 L408.7 372.7 L409.5 373.4 L410.3 374.5 L410.4 374.9 L411.1 375.2 L411.9 375.0 L412.7 376.4 L413.5 375.4 L414.3 377.1 L415.1 375.7 L415.9 377.9 L416.7 378.4 L417.5 377.3 L418.3 377.9 L419.1 379.3 L419.9 379.7 L420.5 380.4 L420.7 380.9 L421.5 380.4 L422.3 379.9 L423.1 378.9 L423.9 380.8 L424.7 381.2 L425.5 382.5 L426.3 382.3 L427.1 381.7 L427.9 383.3 L428.7 383.3 L429.5 383.2 L430.3 383.1 L430.7 383.7 L431.1 383.7 L431.9 383.0 L432.7 382.5 L433.5 383.6 L434.3 384.2 L435.1 384.4 L435.9 383.9 L436.7 384.5 L437.5 383.9 L438.3 383.1 L439.1 384.2 L439.9 385.6 L440.7 385.6 L440.9 385.0 L441.5 384.9 L442.3 385.4 L443.1 386.4 L443.9 386.1 L444.7 386.4 L444.7 386.8 L445.5 387.7 L446.3 387.6 L447.1 387.4 L447.9 388.5 L448.7 387.8 L449.5 388.0 L450.3 388.1 L451.1 388.7 L451.9 388.8 L452.7 388.1 L453.5 387.9 L454.3 387.1 L455.1 388.0 L455.9 387.7 L456.2 388.7 L456.7 388.6 L457.5 387.7 L458.3 389.4 L459.1 388.7 L459.9 388.9 L460.7 388.5 L461.5 388.3 L462.3 388.0 L463.1 387.0 L463.8 388.4 L463.9 387.9 L464.7 388.4 L465.5 390.5 L466.3 390.8 L467.1 391.5 L467.9 391.4 L468.7 393.1 L468.9 393.7 L469.5 394.1 L470.3 395.2 L471.1 396.4 L471.9 397.2 L472.7 398.1 L473.5 398.2 L474.0 398.2 L474.3 397.2 L475.1 398.1 L475.9 397.8 L476.7 397.5 L477.5 397.0 L478.3 397.7 L479.1 396.1 L479.9 396.1 L480.0 395.4 L480.7 396.0 L481.5 395.4 L482.3 396.6 L483.1 398.2 L483.7 399.0 L483.9 398.4 L484.7 397.5 L485.5 397.0 L486.3 397.2 L486.5 397.6 L487.1 398.3 L487.9 397.3 L488.7 398.2 L489.5 396.5 L490.1 395.8 L490.3 395.6 L491.1 397.0 L491.9 398.7 L492.0 399.9 L492.7 400.9 L493.5 402.8 L494.3 404.7 L495.1 405.3 L495.2 404.6 L495.9 405.0 L496.7 402.9 L497.5 401.1 L498.3 399.5 L498.5 398.1 L499.1 396.2 L499.9 394.2 L500.7 392.1 L501.5 390.1 L502.1 389.5 L502.3 389.6 L503.1 389.0 L503.9 388.3 L504.7 388.8 L504.9 387.8 L505.5 388.0 L506.3 388.2 L507.1 387.9 L507.7 387.3 L507.9 388.6 L508.7 389.0 L509.5 390.4 L510.3 392.4 L511.1 393.6 L511.4 392.7 L511.9 393.5 L512.7 394.0 L513.5 394.7 L514.3 396.0 L515.1 397.4 L515.9 399.7 L516.7 399.3 L516.9 400.3 L517.5 399.2 L518.3 399.8 L519.1 401.5 L519.9 402.7 L520.0 402.6 L520.7 402.2 L521.5 403.2 L522.3 403.6 L523.1 405.5 L523.4 404.3" fill="none" stroke="#008d92" stroke-width="2.3" stroke-linejoin="round" stroke-linecap="butt"/>
<path d="M65.5 404.5 L66.3 404.5 L67.1 404.5 L67.9 404.5 L68.7 404.5 L69.5 404.5 L70.3 404.5 L71.1 404.5 L71.9 404.5 L72.7 404.4 L73.5 404.4 L74.3 404.4 L75.1 404.4 L75.9 404.4 L76.7 404.4 L77.5 404.4 L78.3 404.4 L79.1 404.4 L79.9 404.4 L80.7 404.4 L81.5 404.4 L82.3 404.4 L83.1 404.4 L83.9 404.4 L84.7 404.4 L85.5 404.4 L86.3 404.4 L87.1 404.4 L87.9 404.4 L88.7 404.4 L89.5 404.4 L90.3 404.4 L91.1 404.4 L91.9 404.4 L92.7 404.4 L93.5 404.4 L94.3 404.4 L95.1 404.4 L95.9 404.4 L96.7 404.4 L97.5 404.4 L98.3 404.4 L99.1 404.4 L99.9 404.4 L100.0 404.4 L100.7 404.4 L101.5 404.4 L102.3 404.4 L103.1 404.4 L103.9 404.4 L104.7 404.4 L105.5 404.4 L106.3 404.5 L107.1 404.5 L107.9 404.5 L108.7 404.5 L109.5 404.5 L110.3 404.5 L111.1 404.6 L111.9 404.6 L112.7 404.6 L113.5 404.6 L114.3 404.7 L115.1 404.7 L115.9 404.7 L116.7 404.7 L117.5 404.8 L118.0 404.8 L118.3 404.8 L119.1 404.9 L119.9 405.0 L120.7 405.1 L121.5 405.2 L122.3 405.3 L123.1 405.4 L123.8 405.4 L123.9 405.4 L124.7 405.3 L125.5 405.2 L126.3 404.9 L127.1 404.6 L127.9 404.2 L128.0 404.2 L128.7 403.7 L129.5 402.9 L130.3 401.7 L131.1 400.4 L131.9 399.1 L132.1 398.7 L132.7 397.4 L133.5 395.2 L134.3 393.0 L134.9 391.8 L135.1 391.5 L135.9 390.3 L136.7 389.4 L137.5 388.7 L137.7 388.5 L138.3 388.1 L139.1 387.6 L139.9 387.1 L140.7 386.8 L141.5 386.4 L142.3 386.1 L143.1 385.7 L143.2 385.7 L143.9 385.4 L144.7 385.1 L145.5 384.8 L146.3 384.6 L147.1 384.3 L147.9 384.0 L148.7 383.8 L149.5 383.5 L150.3 383.3 L151.1 383.0 L151.5 382.9 L151.9 382.8 L152.7 382.5 L153.5 382.2 L154.3 382.0 L155.1 381.7 L155.9 381.5 L156.7 381.2 L157.5 381.0 L158.3 380.7 L159.1 380.4 L159.9 380.2 L160.7 379.9 L161.5 379.7 L162.3 379.4 L163.1 379.2 L163.9 379.0 L164.7 378.7 L165.4 378.5 L165.5 378.5 L166.3 378.2 L167.1 378.0 L167.9 377.8 L168.7 377.5 L169.5 377.3 L170.3 377.1 L171.1 376.9 L171.9 376.7 L172.7 376.4 L173.5 376.2 L174.3 376.0 L175.1 375.8 L175.9 375.6 L176.7 375.3 L177.5 375.1 L178.3 374.9 L179.1 374.6 L179.2 374.6 L179.9 374.4 L180.7 374.1 L181.5 373.9 L182.3 373.6 L183.1 373.3 L183.9 373.1 L184.7 372.8 L185.5 372.5 L186.3 372.2 L187.1 372.0 L187.9 371.7 L188.7 371.5 L189.5 371.2 L190.3 371.0 L191.0 370.8 L191.1 370.8 L191.9 370.6 L192.7 370.4 L193.5 370.2 L194.3 370.0 L195.1 369.8 L195.9 369.6 L196.7 369.4 L197.5 369.2 L198.3 369.0 L199.1 368.8 L199.9 368.7 L200.7 368.5 L201.5 368.3 L202.1 368.2 L202.3 368.2 L203.1 368.0 L203.9 367.8 L204.7 367.7 L205.5 367.5 L206.3 367.3 L207.1 367.2 L207.9 367.0 L208.7 366.8 L209.5 366.7 L210.3 366.5 L211.1 366.4 L211.9 366.2 L212.7 366.1 L213.5 365.9 L214.3 365.8 L215.1 365.6 L215.9 365.5 L216.7 365.3 L216.9 365.3 L217.5 365.2 L218.3 365.0 L219.1 364.8 L219.9 364.7 L220.7 364.5 L221.5 364.4 L222.3 364.3 L223.1 364.2 L223.5 364.2 L223.9 364.4 L224.7 365.3 L225.4 365.8 L225.5 365.5 L226.2 355.0 L226.3 353.2 L226.8 345.1 L227.1 345.2 L227.9 343.6 L228.7 344.1 L229.5 343.7 L230.3 343.5 L230.5 343.0 L231.1 343.1 L231.9 343.4 L232.7 344.6 L233.5 344.4 L234.2 345.8 L234.3 345.7 L235.1 346.4 L235.9 346.4 L236.7 346.5 L237.5 347.3 L238.3 347.7 L239.1 348.1 L239.7 347.9 L239.9 348.7 L240.7 349.3 L241.5 350.2 L242.3 349.5 L243.1 350.3 L243.4 351.1 L243.9 351.3 L244.7 353.4 L245.5 356.1 L246.2 356.6 L246.3 355.8 L247.1 357.4 L247.9 358.8 L248.7 359.9 L249.0 360.2 L249.5 360.4 L250.3 360.3 L251.1 360.5 L251.9 360.7 L252.7 360.2 L253.5 361.3 L254.3 360.5 L255.1 360.2 L255.9 360.7 L256.3 361.5 L256.7 361.5 L257.5 361.2 L258.3 361.0 L259.1 362.3 L259.9 361.5 L260.7 362.0 L261.5 361.5 L262.3 361.7 L263.1 362.8 L263.9 361.5 L264.7 361.5 L265.5 361.8 L265.6 362.0 L266.3 362.9 L267.1 362.7 L267.9 362.8 L268.7 363.4 L269.5 362.9 L270.3 362.4 L271.1 362.4 L271.9 362.5 L272.7 363.4 L273.5 363.3 L274.3 363.1 L275.1 362.3 L275.9 363.1 L276.6 362.4 L276.7 363.3 L277.5 363.0 L278.3 362.9 L279.1 363.4 L279.9 363.4 L280.7 363.7 L281.5 364.4 L282.3 364.1 L283.1 363.8 L283.9 363.6 L284.7 364.1 L285.5 364.6 L286.3 364.1 L287.1 364.1 L287.7 362.6 L287.9 363.0 L288.7 363.4 L289.5 362.8 L290.3 363.6 L291.1 363.8 L291.9 364.0 L292.7 363.4 L293.5 363.9 L294.3 363.7 L295.1 362.6 L295.9 362.9 L296.7 363.2 L297.5 363.0 L298.3 362.5 L298.7 362.8 L299.1 362.2 L299.9 362.3 L300.7 362.5 L301.5 362.0 L302.3 361.5 L303.1 361.3 L303.9 361.2 L304.7 361.2 L305.0 361.1 L305.5 361.9 L306.3 362.2 L307.1 361.8 L307.9 362.9 L308.7 362.1 L309.5 362.0 L310.3 362.1 L311.1 361.9 L311.9 361.2 L312.7 361.3 L313.5 362.1 L314.3 362.3 L315.1 362.3 L315.4 361.5 L315.9 362.1 L316.7 362.5 L317.5 363.0 L318.3 361.6 L319.1 362.3 L319.9 362.1 L320.7 362.6 L321.5 363.0 L322.3 363.6 L323.1 364.1 L323.9 364.1 L324.7 364.3 L325.5 365.0 L326.3 364.3 L327.1 364.6 L327.9 364.7 L328.7 364.7 L329.5 364.4 L330.1 365.6 L330.3 365.3 L331.1 365.8 L331.9 366.6 L332.7 366.3 L333.5 365.9 L334.3 366.4 L335.1 367.0 L335.9 367.0 L336.7 367.2 L337.5 367.1 L338.3 366.8 L339.1 367.1 L339.9 367.5 L340.7 368.0 L341.5 367.9 L342.3 369.1 L343.1 368.4 L343.9 368.8 L344.7 369.2 L344.9 369.5 L345.5 370.0 L346.3 369.9 L347.1 370.1 L347.9 370.5 L348.7 370.4 L349.5 371.3 L350.3 371.1 L351.1 371.8 L351.9 372.9 L352.7 372.7 L353.5 372.6 L354.1 373.2 L354.3 372.6 L355.1 372.8 L355.9 371.3 L356.7 371.2 L357.5 370.4 L358.3 370.5 L359.1 370.4 L359.6 369.9 L359.9 370.6 L360.7 369.1 L361.5 368.3 L362.3 368.1 L363.1 370.1 L363.9 369.3 L364.7 369.1 L365.5 368.9 L366.3 368.7 L367.1 369.6 L367.9 369.2 L368.7 370.4 L369.5 369.8 L370.3 368.7 L370.7 369.3 L371.1 368.8 L371.9 368.8 L372.7 369.9 L373.5 369.1 L374.3 369.7 L375.1 369.3 L375.9 369.4 L376.7 370.4 L377.5 370.3 L378.3 370.7 L379.1 370.2 L379.9 369.5 L380.0 370.0 L380.7 370.4 L381.5 370.7 L382.3 371.4 L383.1 371.0 L383.9 371.1 L384.7 370.5 L385.5 370.6 L386.3 370.8 L387.1 371.3 L387.4 371.5 L387.9 372.1 L388.7 372.8 L389.5 372.9 L390.3 373.3 L391.1 373.5 L391.9 373.5 L392.7 373.2 L393.5 374.4 L394.3 375.3 L394.8 375.1 L395.1 375.8 L395.9 375.7 L396.7 375.6 L397.5 375.6 L398.3 375.3 L399.1 375.8 L399.9 376.1 L400.7 376.6 L401.5 377.2 L402.1 376.8 L402.3 377.0 L403.1 376.9 L403.9 376.2 L404.7 376.8 L405.5 376.7 L406.3 377.4 L407.1 377.9 L407.9 378.7 L408.7 379.3 L409.5 380.4 L409.5 380.5 L410.3 379.9 L411.1 380.5 L411.9 380.3 L412.7 381.4 L413.5 380.8 L414.3 381.2 L415.1 382.0 L415.9 382.3 L416.7 382.4 L416.9 383.2 L417.5 382.4 L418.3 382.7 L419.1 382.5 L419.9 382.3 L420.7 383.4 L421.5 383.9 L422.3 384.3 L423.1 383.7 L423.9 384.2 L424.3 383.7 L424.7 383.6 L425.5 385.1 L426.3 385.0 L427.1 384.3 L427.9 384.4 L428.7 384.9 L429.5 385.7 L430.3 386.0 L431.1 385.8 L431.7 386.0 L431.9 384.4 L432.7 385.1 L433.5 384.9 L434.3 385.7 L435.1 386.0 L435.9 385.6 L436.7 384.4 L437.5 384.5 L438.3 385.1 L439.0 384.8 L439.1 384.9 L439.9 384.6 L440.7 383.4 L441.5 385.1 L442.3 385.1 L443.1 385.3 L443.5 383.7 L443.9 383.8 L444.7 385.5 L445.5 388.0 L445.7 388.1 L446.3 388.0 L447.1 389.1 L447.9 389.2 L448.7 388.4 L449.5 387.7 L450.3 388.9 L451.1 387.9 L451.9 389.3 L452.7 389.3 L453.5 388.3 L454.3 388.2 L455.1 387.7 L455.9 387.7 L456.2 387.7 L456.7 388.6 L457.5 389.1 L458.3 388.3 L459.1 388.1 L459.9 387.7 L460.7 387.1 L461.5 388.5 L462.3 386.6 L463.1 387.3 L463.8 387.1 L463.9 386.2 L464.7 386.9 L465.5 388.2 L466.3 388.3 L467.1 390.3 L467.9 390.3 L468.7 391.8 L468.9 391.6 L469.5 392.3 L470.3 394.5 L471.1 395.3 L471.9 396.4 L472.7 395.5 L473.5 394.8 L474.0 394.9 L474.3 395.6 L475.1 394.5 L475.9 395.7 L476.7 394.4 L477.5 393.9 L478.3 392.4 L479.1 392.7 L479.9 392.4 L480.0 392.2 L480.7 392.3 L481.5 392.0 L482.3 394.5 L483.1 394.3 L483.7 394.3 L483.9 394.9 L484.7 394.9 L485.5 395.8 L486.3 394.7 L486.5 395.3 L487.1 394.1 L487.9 395.2 L488.7 393.7 L489.5 394.0 L490.1 393.1 L490.3 394.2 L491.1 394.2 L491.9 396.5 L492.0 396.9 L492.7 398.2 L493.5 400.5 L494.3 401.3 L495.1 401.1 L495.2 400.7 L495.9 400.3 L496.7 399.4 L497.5 398.4 L498.3 396.4 L498.5 394.9 L499.1 393.6 L499.9 391.7 L500.7 389.8 L501.5 389.0 L502.1 388.9 L502.3 388.8 L503.1 387.2 L503.9 386.0 L504.7 385.5 L504.9 385.8 L505.5 385.0 L506.3 386.6 L507.1 387.1 L507.7 386.5 L507.9 385.9 L508.7 386.8 L509.5 387.3 L510.3 389.3 L511.1 388.8 L511.4 390.1 L511.9 390.4 L512.7 393.8 L513.5 394.3 L514.3 395.0 L515.1 396.0 L515.9 397.2 L516.7 398.6 L516.9 398.3 L517.5 398.6 L518.3 397.8 L519.1 398.3 L519.9 398.3 L520.0 398.5 L520.7 399.7 L521.5 400.8 L522.3 401.2 L523.1 399.7 L523.4 401.4" fill="none" stroke="#a8000c" stroke-width="2.3" stroke-linejoin="round" stroke-linecap="butt"/>
<path d="M65.5 407.0 L66.3 407.0 L67.1 407.0 L67.9 407.0 L68.7 407.0 L69.5 407.0 L70.3 407.0 L71.1 407.0 L71.9 407.0 L72.7 407.0 L73.5 407.0 L74.3 407.0 L75.1 407.0 L75.9 407.0 L76.7 407.0 L77.5 407.0 L78.3 407.0 L79.1 407.0 L79.9 407.0 L80.7 407.0 L81.5 407.0 L82.3 407.0 L83.1 407.0 L83.9 407.0 L84.7 407.0 L85.5 407.0 L86.3 407.0 L87.1 407.0 L87.9 407.0 L88.7 407.0 L89.5 407.0 L90.3 407.0 L91.1 407.0 L91.9 407.0 L92.7 407.0 L93.5 407.0 L94.3 407.0 L95.1 407.0 L95.9 407.0 L96.7 407.0 L97.5 407.0 L98.3 407.0 L99.1 407.0 L99.9 407.0 L100.0 407.0 L100.7 407.0 L101.5 407.0 L102.3 407.0 L103.1 407.0 L103.9 407.0 L104.7 407.0 L105.5 407.0 L106.3 407.0 L107.1 407.0 L107.9 407.0 L108.7 407.0 L109.5 407.0 L110.3 407.0 L111.1 407.0 L111.9 407.0 L112.7 407.0 L113.5 407.0 L114.3 407.0 L115.1 407.0 L115.9 407.0 L116.0 407.0 L116.7 407.0 L117.5 406.9 L118.3 406.8 L119.1 406.7 L119.9 406.5 L120.7 406.3 L121.0 406.2 L121.5 406.0 L122.3 405.4 L123.1 404.6 L123.9 403.5 L124.7 402.3 L125.2 401.5 L125.5 401.0 L126.3 399.2 L127.1 396.9 L127.9 394.2 L128.5 391.8 L128.7 390.9 L129.5 386.2 L130.3 380.4 L131.0 375.2 L131.1 374.5 L131.9 368.4 L132.7 362.2 L133.2 358.6 L133.5 356.6 L134.3 351.1 L135.1 346.4 L135.5 344.7 L135.9 343.3 L136.7 341.0 L137.5 339.2 L138.2 337.8 L138.3 337.6 L139.1 336.2 L139.9 335.0 L140.7 333.9 L141.5 332.9 L142.3 332.0 L143.1 331.0 L143.2 330.9 L143.9 330.1 L144.7 329.2 L145.5 328.4 L146.3 327.6 L147.1 326.8 L147.9 326.0 L148.7 325.3 L149.5 324.5 L150.3 323.8 L151.1 323.0 L151.5 322.6 L151.9 322.2 L152.7 321.4 L153.5 320.6 L154.3 319.8 L155.1 318.9 L155.9 318.1 L156.7 317.3 L157.5 316.5 L158.3 315.7 L159.1 314.9 L159.9 314.1 L160.7 313.3 L161.5 312.5 L162.3 311.8 L162.6 311.5 L163.1 311.0 L163.9 310.3 L164.7 309.6 L165.5 308.9 L166.3 308.2 L167.1 307.4 L167.9 306.8 L168.7 306.1 L169.5 305.4 L170.3 304.7 L171.1 304.0 L171.9 303.3 L172.7 302.7 L173.5 302.0 L174.3 301.3 L175.1 300.7 L175.9 300.0 L176.4 299.6 L176.7 299.4 L177.5 298.7 L178.3 298.1 L179.1 297.4 L179.9 296.8 L180.7 296.2 L181.5 295.6 L182.3 294.9 L183.1 294.3 L183.9 293.7 L184.7 293.1 L185.5 292.5 L186.3 291.8 L187.1 291.2 L187.9 290.5 L188.7 289.9 L189.5 289.2 L190.0 288.8 L190.3 288.5 L191.1 287.8 L191.9 287.1 L192.7 286.4 L193.5 285.6 L194.3 284.9 L195.1 284.1 L195.9 283.3 L196.7 282.5 L197.5 281.8 L198.3 281.0 L199.1 280.3 L199.9 279.6 L200.7 278.9 L201.5 278.3 L202.1 277.8 L202.3 277.6 L203.1 277.1 L203.9 276.5 L204.7 276.0 L205.5 275.5 L206.3 275.0 L207.1 274.5 L207.9 274.0 L208.7 273.4 L209.5 272.9 L210.0 272.5 L210.3 272.3 L211.1 271.6 L211.9 270.9 L212.7 270.2 L213.5 269.5 L214.3 268.7 L215.1 268.0 L215.9 267.3 L216.7 266.6 L217.4 266.0 L217.5 265.9 L218.3 265.4 L219.1 265.0 L219.9 264.7 L220.7 264.4 L221.5 264.1 L222.3 263.6 L223.1 262.9 L223.9 262.0 L224.7 260.7 L224.8 260.5 L225.5 246.7 L225.5 246.7 L226.2 230.0 L226.3 229.6 L227.1 226.1 L227.5 227.1 L227.9 228.3 L228.7 232.5 L229.4 233.7 L229.5 232.9 L230.3 229.0 L230.7 227.3 L231.1 226.3 L231.8 226.5 L231.9 224.3 L232.7 227.1 L233.1 228.4 L233.5 229.8 L234.3 231.1 L235.1 233.3 L235.8 234.5 L235.9 234.1 L236.7 234.8 L237.5 238.0 L238.3 238.6 L238.6 239.9 L239.1 240.0 L239.9 243.5 L240.4 244.2 L240.7 244.0 L241.5 245.9 L242.3 246.0 L242.3 246.9 L243.1 246.7 L243.9 245.6 L244.7 245.8 L245.1 244.8 L245.5 245.4 L246.3 246.0 L247.1 243.7 L247.9 244.1 L248.7 243.6 L249.5 242.2 L250.3 242.6 L250.6 242.2 L251.1 243.3 L251.9 242.5 L252.7 242.8 L253.5 242.3 L254.3 241.5 L255.1 241.1 L255.9 241.1 L256.1 241.7 L256.7 240.9 L257.5 241.4 L258.3 240.5 L259.1 239.0 L259.9 239.1 L260.7 238.3 L261.5 237.0 L261.7 238.5 L262.3 236.9 L263.1 237.2 L263.9 237.1 L264.7 236.1 L265.4 236.4 L265.5 236.2 L266.3 236.9 L267.1 236.1 L267.9 235.1 L268.7 234.6 L269.5 233.9 L270.0 234.4 L270.3 234.9 L271.1 235.4 L271.9 234.2 L272.7 233.9 L273.5 233.6 L274.3 233.4 L274.8 233.2 L275.1 232.1 L275.9 231.6 L276.7 231.1 L277.5 230.5 L278.3 230.7 L279.1 230.4 L279.9 229.4 L280.7 230.7 L281.5 230.2 L282.3 229.1 L283.1 228.2 L283.9 229.4 L284.7 228.8 L285.5 227.9 L286.3 229.1 L287.1 228.9 L287.9 225.8 L288.7 226.9 L289.5 224.6 L289.5 225.7 L290.3 224.9 L291.1 225.9 L291.9 224.8 L292.7 224.7 L293.5 223.9 L294.3 223.0 L295.1 222.5 L295.9 222.8 L296.7 221.5 L297.5 222.1 L298.3 220.7 L299.1 220.2 L299.9 219.7 L300.7 219.6 L301.5 219.5 L302.3 218.8 L303.1 218.3 L303.9 218.2 L304.3 218.1 L304.7 218.2 L305.5 217.9 L306.3 217.2 L307.1 216.5 L307.9 215.8 L308.7 215.3 L309.5 214.9 L310.3 215.6 L311.1 214.4 L311.9 213.3 L312.7 214.1 L313.5 213.1 L314.3 213.3 L315.1 213.1 L315.9 213.8 L316.7 211.7 L317.5 212.0 L318.3 211.5 L319.0 212.0 L319.1 212.1 L319.9 212.4 L320.7 211.0 L321.5 211.0 L322.3 211.5 L323.1 210.4 L323.9 210.1 L324.7 209.6 L325.5 210.0 L326.3 209.0 L327.1 208.4 L327.9 209.0 L328.7 207.6 L329.5 208.3 L330.3 208.2 L331.1 207.7 L331.9 207.2 L332.7 207.5 L333.5 207.4 L333.8 206.2 L334.3 206.9 L335.1 206.1 L335.9 205.3 L336.7 205.9 L337.5 204.3 L338.3 205.6 L339.1 204.0 L339.9 204.5 L340.7 203.6 L341.5 203.5 L342.3 202.3 L343.1 202.0 L343.9 202.6 L344.7 202.6 L345.5 202.8 L346.3 202.0 L347.1 201.3 L347.9 201.9 L348.7 201.0 L349.5 200.3 L350.3 200.3 L351.1 199.9 L351.9 199.5 L352.3 199.5 L352.7 200.5 L353.5 198.4 L354.3 198.1 L355.1 200.5 L355.9 199.8 L356.7 198.5 L357.5 198.2 L358.3 196.6 L359.1 197.3 L359.9 195.2 L360.7 195.1 L361.5 195.0 L362.3 194.3 L363.1 195.5 L363.9 193.8 L364.7 194.0 L365.5 193.3 L366.3 193.2 L367.1 193.0 L367.9 192.6 L368.7 192.7 L369.5 191.0 L370.0 191.3 L370.3 192.4 L371.1 191.1 L371.9 191.2 L372.7 190.5 L373.5 189.6 L374.3 188.7 L375.1 188.7 L375.9 188.6 L376.7 189.2 L377.5 187.7 L378.3 189.5 L379.1 189.6 L379.9 189.3 L380.7 188.2 L381.5 187.4 L382.3 188.1 L383.1 187.1 L383.9 187.0 L384.7 185.7 L385.5 186.1 L386.3 185.4 L387.1 185.6 L387.9 184.1 L388.7 183.4 L389.5 183.7 L390.0 183.1 L390.3 182.8 L391.1 182.5 L391.9 181.7 L392.7 182.0 L393.5 180.3 L394.3 181.7 L395.1 182.4 L395.9 181.4 L396.7 181.4 L397.5 181.7 L398.3 179.2 L399.1 178.8 L399.9 179.5 L400.7 178.3 L401.5 178.8 L402.3 177.8 L403.1 179.2 L403.9 179.3 L404.7 178.6 L404.8 176.6 L405.5 178.0 L406.3 176.8 L407.1 176.3 L407.9 178.2 L408.7 176.9 L409.5 179.0 L410.3 176.3 L411.1 177.9 L411.9 176.3 L412.7 176.0 L413.5 176.2 L414.3 176.1 L415.1 176.1 L415.9 176.2 L416.7 175.2 L417.5 175.7 L418.3 175.6 L419.1 174.5 L419.5 174.0 L419.9 173.7 L420.7 174.7 L421.5 174.1 L422.3 172.4 L423.1 171.5 L423.9 172.9 L424.7 171.5 L425.5 173.0 L426.3 171.7 L427.1 170.9 L427.9 170.5 L428.7 170.2 L429.5 170.7 L430.3 171.0 L431.1 168.8 L431.9 169.6 L432.7 170.3 L433.5 169.7 L434.3 168.9 L434.3 171.3 L435.1 169.8 L435.9 169.7 L436.7 169.1 L437.5 169.2 L438.3 168.9 L439.1 169.3 L439.9 169.2 L440.7 168.3 L441.5 167.0 L442.3 167.3 L443.1 166.2 L443.9 166.6 L444.7 167.6 L445.0 167.6 L445.5 166.6 L446.3 165.9 L447.1 167.3 L447.9 165.2 L448.7 166.3 L449.5 167.0 L450.0 166.4 L450.3 165.3 L451.1 165.9 L451.9 167.7 L452.7 166.6 L453.5 165.9 L454.3 166.2 L455.1 165.0 L455.8 164.2 L455.9 165.9 L456.7 165.0 L457.5 164.4 L458.3 163.3 L459.1 163.2 L459.9 161.7 L460.7 161.8 L461.5 161.1 L461.6 161.5 L462.3 160.4 L463.1 159.6 L463.9 157.6 L464.5 157.2 L464.7 158.2 L465.5 158.2 L466.3 153.3 L467.1 152.2 L467.2 153.1 L467.9 154.3 L468.7 156.2 L468.9 158.3 L469.5 159.5 L470.3 163.5 L471.1 166.2 L471.1 166.7 L471.9 165.8 L472.7 166.3 L473.5 167.0 L474.3 167.9 L475.1 167.2 L475.5 166.1 L475.9 166.7 L476.7 166.4 L477.5 164.9 L478.3 163.8 L479.1 165.0 L479.1 164.8 L479.9 165.0 L480.7 163.5 L481.5 162.3 L482.3 161.0 L483.1 159.4 L483.9 158.2 L484.7 159.3 L484.9 159.4 L485.5 161.1 L486.3 159.0 L487.1 159.9 L487.9 159.5 L488.7 160.6 L489.5 160.0 L490.3 159.7 L490.7 160.0 L491.1 158.8 L491.9 157.8 L492.7 158.9 L493.5 158.4 L494.3 158.5 L495.1 159.5 L495.8 159.6 L495.9 159.7 L496.7 156.4 L497.5 155.7 L498.3 152.6 L498.7 152.0 L499.1 149.9 L499.9 146.7 L500.7 144.2 L501.5 144.7 L501.6 146.5 L502.3 145.7 L503.1 146.5 L503.8 146.0 L503.9 143.8 L504.7 140.2 L505.3 138.2 L505.5 138.9 L506.3 138.7 L507.1 138.9 L507.5 139.2 L507.9 141.3 L508.7 143.9 L509.5 145.3 L509.6 144.7 L510.3 147.2 L511.1 148.7 L511.8 151.7 L511.9 152.0 L512.7 150.8 L513.5 150.2 L514.0 151.6 L514.3 151.6 L515.1 154.8 L515.5 156.3 L515.9 157.3 L516.7 156.2 L517.5 156.4 L518.3 156.5 L518.4 158.0 L519.1 158.5 L519.9 158.7 L520.3 159.6 L520.7 159.4 L521.5 157.5 L522.3 155.4 L523.1 153.8 L523.2 154.7" fill="none" stroke="#0000ff" stroke-width="2.3" stroke-linejoin="round" stroke-linecap="butt"/>
</g>
<line x1="103.0" y1="10.3" x2="103.0" y2="465" stroke="#000" stroke-width="2.3" stroke-dasharray="10 4.41"/>
<line x1="204.3" y1="10.3" x2="204.3" y2="465" stroke="#000" stroke-width="2.3" stroke-dasharray="10 4.41"/>
<rect x="65.45" y="5.2" width="459.05" height="460.5" fill="none" stroke="#000" stroke-width="2.3"/>
<g font-family="&quot;Liberation Sans&quot;, Arial, Helvetica, sans-serif" fill="#000">
<text x="57" y="411.8" font-size="20" text-anchor="end">0</text>
<text x="57" y="318.5" font-size="20" text-anchor="end">10</text>
<text x="57" y="225.2" font-size="20" text-anchor="end">20</text>
<text x="57" y="131.9" font-size="20" text-anchor="end">30</text>
<text transform="translate(62.4 492.4) scale(1.035 1)" font-size="20.5" text-anchor="middle">250</text>
<text transform="translate(107.5 492.4) scale(1.035 1)" font-size="20.5" text-anchor="middle">400</text>
<text transform="translate(159.7 492.4) scale(1.035 1)" font-size="20.5" text-anchor="middle">600</text>
<text transform="translate(211.8 492.4) scale(1.035 1)" font-size="20.5" text-anchor="middle">800</text>
<text transform="translate(263.9 492.4) scale(1.035 1)" font-size="20.5" text-anchor="middle">1000</text>
<text transform="translate(316.0 492.4) scale(1.035 1)" font-size="20.5" text-anchor="middle">1200</text>
<text transform="translate(368.1 492.4) scale(1.035 1)" font-size="20.5" text-anchor="middle">1400</text>
<text transform="translate(420.2 492.4) scale(1.035 1)" font-size="20.5" text-anchor="middle">1600</text>
<text transform="translate(472.3 492.4) scale(1.035 1)" font-size="20.5" text-anchor="middle">1800</text>
<text transform="translate(521.9 492.4) scale(1.035 1)" font-size="20.5" text-anchor="middle">2000</text>
<text x="186" y="532.85" font-size="25.7">Wavelength,</text>
<text x="336.4" y="532.85" font-size="24" font-family="&quot;DejaVu Serif&quot;, &quot;Liberation Serif&quot;, serif" font-style="italic">λ</text>
<text x="356.8" y="532.85" font-size="25.3">/ nm</text>
<text transform="translate(22.8 356.3) rotate(-90)" font-size="25.7">Transmittance, <tspan font-style="italic" dx="1.1">T</tspan><tspan dx="-1.3"> / %</tspan></text>
</g>
<g font-family="&quot;Liberation Sans&quot;, Arial, Helvetica, sans-serif" fill="#fff" font-size="23.4">
<text x="69.4" y="42">UV</text>
<text x="129.9" y="42">VIS</text>
<text x="335" y="41.8">NIR</text>
</g>
<rect x="448.2" y="109.7" width="35.9" height="21.2" fill="#c79e0e"/>
<text transform="translate(448.09 129.8) scale(0.868 1)" font-family="&quot;Liberation Sans&quot;, Arial, Helvetica, sans-serif" font-size="25.6" fill="#7d5514" stroke="#7d5514" stroke-width="0.55">SiC</text>
<text transform="translate(491.5 128.0) scale(1.055 1)" font-family="&quot;Liberation Sans&quot;, Arial, Helvetica, sans-serif" font-size="23" fill="#000">(a)</text>
<rect x="448.2" y="234.4" width="35.9" height="21.2" fill="#c6a834"/>
<text transform="translate(448.09 252.7) scale(0.926 1)" font-family="&quot;Liberation Sans&quot;, Arial, Helvetica, sans-serif" font-size="24.0" fill="#5a4623" stroke="#5a4623" stroke-width="0.55">SiC</text>
<text transform="translate(491.5 252.6) scale(1.055 1)" font-family="&quot;Liberation Sans&quot;, Arial, Helvetica, sans-serif" font-size="23" fill="#000">(b)</text>
<rect x="448.2" y="297.0" width="35.9" height="21.8" fill="#aa9416"/>
<text transform="translate(448.09 316.1) scale(0.903 1)" font-family="&quot;Liberation Sans&quot;, Arial, Helvetica, sans-serif" font-size="24.6" fill="#5f4123" stroke="#5f4123" stroke-width="0.55">SiC</text>
<text transform="translate(491.5 317.3) scale(1.055 1)" font-family="&quot;Liberation Sans&quot;, Arial, Helvetica, sans-serif" font-size="23" fill="#000">(c)</text>
<rect x="448.2" y="358.0" width="35.9" height="20.9" fill="#a58c0a"/>
<text transform="translate(448.09 377.4) scale(0.933 1)" font-family="&quot;Liberation Sans&quot;, Arial, Helvetica, sans-serif" font-size="23.8" fill="#644828" stroke="#644828" stroke-width="0.55">SiC</text>
<text transform="translate(491.5 373.5) scale(1.055 1)" font-family="&quot;Liberation Sans&quot;, Arial, Helvetica, sans-serif" font-size="23" fill="#000">(d)</text>
<rect x="448.2" y="412.2" width="35.9" height="21.7" fill="#b9ae34"/>
<rect x="449.2" y="413.2" width="33.9" height="19.7" fill="#968719"/>
<text transform="translate(448.09 431.6) scale(0.918 1)" font-family="&quot;Liberation Sans&quot;, Arial, Helvetica, sans-serif" font-size="24.2" fill="#5a4a28" stroke="#5a4a28" stroke-width="0.55">SiC</text>
<text transform="translate(491.5 433.1) scale(1.055 1)" font-family="&quot;Liberation Sans&quot;, Arial, Helvetica, sans-serif" font-size="23" fill="#000">(e)</text>
</svg>
</body>
</html>
